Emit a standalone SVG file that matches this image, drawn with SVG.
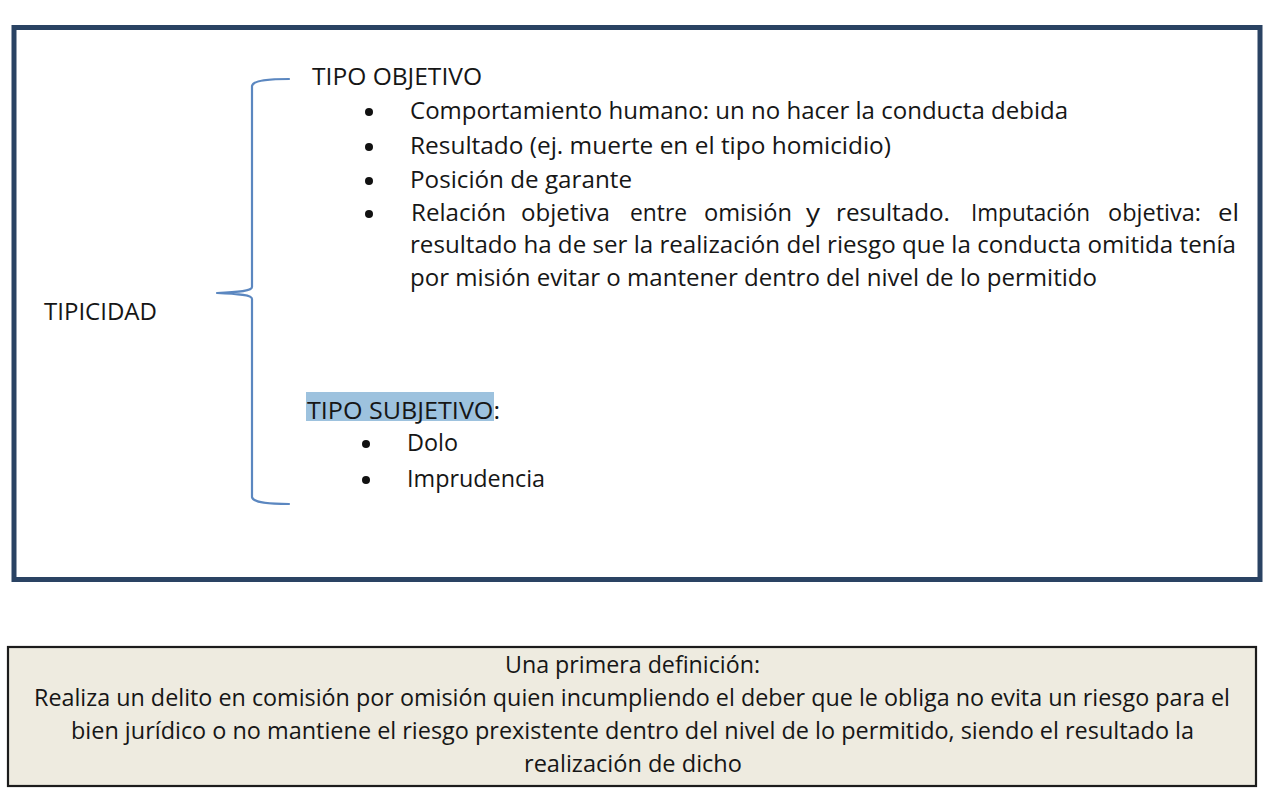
<svg xmlns="http://www.w3.org/2000/svg" width="1280" height="803" viewBox="0 0 1280 803">
<style>
.t{font-family:"Open Sans","Liberation Sans",sans-serif;font-size:24px;fill:#161616}
.frame{fill:#ffffff;stroke:#2a4363;stroke-width:5}
.def{fill:#eeebe0;stroke:#1c1c1c;stroke-width:2.2}
.brace{fill:none;stroke:#5b87c0;stroke-width:2.2;stroke-linecap:round;stroke-linejoin:round}
.dot{fill:#111111}
.hl{fill:#9dc2de}
</style>
<rect width="1280" height="803" fill="#ffffff"/>
<g id="frame">
<rect class="frame" x="14" y="27.5" width="1246" height="552"/>
</g>
<g id="connectors">
<path class="brace" d="M289,79 C270,79 253,80 252,86 L252,287 C252,291 240,292 217,293 C240,294 252,295 252,299 L252,497 C253,503 270,504 289,504"/>
</g>
<g id="tipicidad">
<text class="t" x="44" y="320" textLength="113" lengthAdjust="spacingAndGlyphs">TIPICIDAD</text>
</g>
<g id="tipo-objetivo">
<text class="t" x="312" y="85" textLength="170" lengthAdjust="spacingAndGlyphs">TIPO OBJETIVO</text>
<circle class="dot" cx="369" cy="112" r="4"/>
<circle class="dot" cx="369" cy="147" r="4"/>
<circle class="dot" cx="369" cy="181" r="4"/>
<circle class="dot" cx="369" cy="214" r="4"/>
<text class="t" x="410" y="119" textLength="658" lengthAdjust="spacingAndGlyphs">Comportamiento humano: un no hacer la conducta debida</text>
<text class="t" x="410" y="154" textLength="481" lengthAdjust="spacingAndGlyphs">Resultado (ej. muerte en el tipo homicidio)</text>
<text class="t" x="410" y="188" textLength="222" lengthAdjust="spacingAndGlyphs">Posición de garante</text>
<g id="justified-line">
<text class="t" x="411" y="221" textLength="95" lengthAdjust="spacingAndGlyphs">Relación</text>
<text class="t" x="521" y="221" textLength="89" lengthAdjust="spacingAndGlyphs">objetiva</text>
<text class="t" x="630" y="221" textLength="57" lengthAdjust="spacingAndGlyphs">entre</text>
<text class="t" x="704" y="221" textLength="88" lengthAdjust="spacingAndGlyphs">omisión</text>
<text class="t" x="806" y="221" textLength="14" lengthAdjust="spacingAndGlyphs">y</text>
<text class="t" x="836" y="221" textLength="114" lengthAdjust="spacingAndGlyphs">resultado.</text>
<text class="t" x="971" y="221" textLength="119" lengthAdjust="spacingAndGlyphs">Imputación</text>
<text class="t" x="1108" y="221" textLength="93" lengthAdjust="spacingAndGlyphs">objetiva:</text>
<text class="t" x="1218" y="221" textLength="21" lengthAdjust="spacingAndGlyphs">el</text>
</g>
<text class="t" x="410" y="253" textLength="826" lengthAdjust="spacingAndGlyphs">resultado ha de ser la realización del riesgo que la conducta omitida tenía</text>
<text class="t" x="410" y="286" textLength="687" lengthAdjust="spacingAndGlyphs">por misión evitar o mantener dentro del nivel de lo permitido</text>
</g>
<g id="tipo-subjetivo">
<rect class="hl" x="306" y="392" width="188" height="29"/>
<text class="t" x="307" y="419" textLength="193" lengthAdjust="spacingAndGlyphs">TIPO SUBJETIVO:</text>
<circle class="dot" cx="366" cy="444" r="4"/>
<circle class="dot" cx="366" cy="480" r="4"/>
<text class="t" x="407" y="451" textLength="51" lengthAdjust="spacingAndGlyphs">Dolo</text>
<text class="t" x="407" y="487" textLength="138" lengthAdjust="spacingAndGlyphs">Imprudencia</text>
</g>
<g id="definicion">
<rect class="def" x="8" y="647" width="1248" height="139"/>
<text class="t" x="505" y="673" textLength="255" lengthAdjust="spacingAndGlyphs">Una primera definición:</text>
<text class="t" x="34" y="706" textLength="1196" lengthAdjust="spacingAndGlyphs">Realiza un delito en comisión por omisión quien incumpliendo el deber que le obliga no evita un riesgo para el</text>
<text class="t" x="71" y="739" textLength="1123" lengthAdjust="spacingAndGlyphs">bien jurídico o no mantiene el riesgo prexistente dentro del nivel de lo permitido, siendo el resultado la</text>
<text class="t" x="524" y="772" textLength="218" lengthAdjust="spacingAndGlyphs">realización de dicho</text>
</g>
</svg>
